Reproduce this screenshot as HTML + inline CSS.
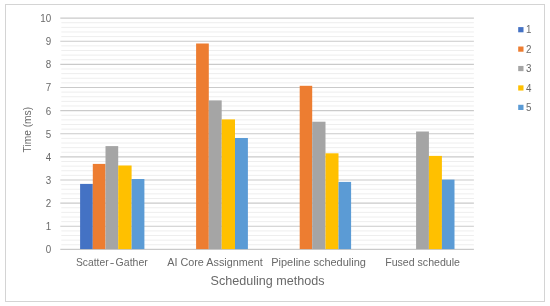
<!DOCTYPE html>
<html><head><meta charset="utf-8"><title>Chart</title>
<style>
html,body{margin:0;padding:0;background:#fff;}
body{width:550px;height:306px;overflow:hidden;}
svg{display:block;}
text{font-family:"Liberation Sans",sans-serif;fill:#696969;}
</style></head><body>
<svg width="550" height="306" viewBox="0 0 550 306">
<rect x="0" y="0" width="550" height="306" fill="#fff"/>
<rect x="5.5" y="4.5" width="539" height="297" fill="#fff" stroke="#d4d4d4" stroke-width="1"/>
<line x1="61.3" x2="473.9" y1="244.77" y2="244.77" stroke="#eeeeee" stroke-width="1"/>
<line x1="61.3" x2="473.9" y1="240.15" y2="240.15" stroke="#eeeeee" stroke-width="1"/>
<line x1="61.3" x2="473.9" y1="235.52" y2="235.52" stroke="#eeeeee" stroke-width="1"/>
<line x1="61.3" x2="473.9" y1="230.90" y2="230.90" stroke="#eeeeee" stroke-width="1"/>
<line x1="61.3" x2="473.9" y1="221.64" y2="221.64" stroke="#eeeeee" stroke-width="1"/>
<line x1="61.3" x2="473.9" y1="217.02" y2="217.02" stroke="#eeeeee" stroke-width="1"/>
<line x1="61.3" x2="473.9" y1="212.39" y2="212.39" stroke="#eeeeee" stroke-width="1"/>
<line x1="61.3" x2="473.9" y1="207.77" y2="207.77" stroke="#eeeeee" stroke-width="1"/>
<line x1="61.3" x2="473.9" y1="198.51" y2="198.51" stroke="#eeeeee" stroke-width="1"/>
<line x1="61.3" x2="473.9" y1="193.89" y2="193.89" stroke="#eeeeee" stroke-width="1"/>
<line x1="61.3" x2="473.9" y1="189.26" y2="189.26" stroke="#eeeeee" stroke-width="1"/>
<line x1="61.3" x2="473.9" y1="184.64" y2="184.64" stroke="#eeeeee" stroke-width="1"/>
<line x1="61.3" x2="473.9" y1="175.38" y2="175.38" stroke="#eeeeee" stroke-width="1"/>
<line x1="61.3" x2="473.9" y1="170.76" y2="170.76" stroke="#eeeeee" stroke-width="1"/>
<line x1="61.3" x2="473.9" y1="166.13" y2="166.13" stroke="#eeeeee" stroke-width="1"/>
<line x1="61.3" x2="473.9" y1="161.51" y2="161.51" stroke="#eeeeee" stroke-width="1"/>
<line x1="61.3" x2="473.9" y1="152.25" y2="152.25" stroke="#eeeeee" stroke-width="1"/>
<line x1="61.3" x2="473.9" y1="147.63" y2="147.63" stroke="#eeeeee" stroke-width="1"/>
<line x1="61.3" x2="473.9" y1="143.00" y2="143.00" stroke="#eeeeee" stroke-width="1"/>
<line x1="61.3" x2="473.9" y1="138.38" y2="138.38" stroke="#eeeeee" stroke-width="1"/>
<line x1="61.3" x2="473.9" y1="129.12" y2="129.12" stroke="#eeeeee" stroke-width="1"/>
<line x1="61.3" x2="473.9" y1="124.50" y2="124.50" stroke="#eeeeee" stroke-width="1"/>
<line x1="61.3" x2="473.9" y1="119.87" y2="119.87" stroke="#eeeeee" stroke-width="1"/>
<line x1="61.3" x2="473.9" y1="115.25" y2="115.25" stroke="#eeeeee" stroke-width="1"/>
<line x1="61.3" x2="473.9" y1="105.99" y2="105.99" stroke="#eeeeee" stroke-width="1"/>
<line x1="61.3" x2="473.9" y1="101.37" y2="101.37" stroke="#eeeeee" stroke-width="1"/>
<line x1="61.3" x2="473.9" y1="96.74" y2="96.74" stroke="#eeeeee" stroke-width="1"/>
<line x1="61.3" x2="473.9" y1="92.12" y2="92.12" stroke="#eeeeee" stroke-width="1"/>
<line x1="61.3" x2="473.9" y1="82.86" y2="82.86" stroke="#eeeeee" stroke-width="1"/>
<line x1="61.3" x2="473.9" y1="78.24" y2="78.24" stroke="#eeeeee" stroke-width="1"/>
<line x1="61.3" x2="473.9" y1="73.61" y2="73.61" stroke="#eeeeee" stroke-width="1"/>
<line x1="61.3" x2="473.9" y1="68.99" y2="68.99" stroke="#eeeeee" stroke-width="1"/>
<line x1="61.3" x2="473.9" y1="59.73" y2="59.73" stroke="#eeeeee" stroke-width="1"/>
<line x1="61.3" x2="473.9" y1="55.11" y2="55.11" stroke="#eeeeee" stroke-width="1"/>
<line x1="61.3" x2="473.9" y1="50.48" y2="50.48" stroke="#eeeeee" stroke-width="1"/>
<line x1="61.3" x2="473.9" y1="45.86" y2="45.86" stroke="#eeeeee" stroke-width="1"/>
<line x1="61.3" x2="473.9" y1="36.60" y2="36.60" stroke="#eeeeee" stroke-width="1"/>
<line x1="61.3" x2="473.9" y1="31.98" y2="31.98" stroke="#eeeeee" stroke-width="1"/>
<line x1="61.3" x2="473.9" y1="27.35" y2="27.35" stroke="#eeeeee" stroke-width="1"/>
<line x1="61.3" x2="473.9" y1="22.73" y2="22.73" stroke="#eeeeee" stroke-width="1"/>
<line x1="60.3" x2="473.9" y1="249.40" y2="249.40" stroke="#cacaca" stroke-width="1.15"/>
<line x1="60.3" x2="473.9" y1="226.27" y2="226.27" stroke="#cacaca" stroke-width="1.15"/>
<line x1="60.3" x2="473.9" y1="203.14" y2="203.14" stroke="#cacaca" stroke-width="1.15"/>
<line x1="60.3" x2="473.9" y1="180.01" y2="180.01" stroke="#cacaca" stroke-width="1.15"/>
<line x1="60.3" x2="473.9" y1="156.88" y2="156.88" stroke="#cacaca" stroke-width="1.15"/>
<line x1="60.3" x2="473.9" y1="133.75" y2="133.75" stroke="#cacaca" stroke-width="1.15"/>
<line x1="60.3" x2="473.9" y1="110.62" y2="110.62" stroke="#cacaca" stroke-width="1.15"/>
<line x1="60.3" x2="473.9" y1="87.49" y2="87.49" stroke="#cacaca" stroke-width="1.15"/>
<line x1="60.3" x2="473.9" y1="64.36" y2="64.36" stroke="#cacaca" stroke-width="1.15"/>
<line x1="60.3" x2="473.9" y1="41.23" y2="41.23" stroke="#cacaca" stroke-width="1.15"/>
<line x1="60.3" x2="473.9" y1="18.10" y2="18.10" stroke="#cacaca" stroke-width="1.15"/>
<rect x="80.10" y="183.90" width="12.70" height="65.20" fill="#4472c4"/>
<rect x="92.80" y="163.90" width="12.70" height="85.20" fill="#ed7d31"/>
<rect x="105.50" y="146.10" width="12.70" height="103.00" fill="#a5a5a5"/>
<rect x="118.20" y="165.50" width="13.40" height="83.60" fill="#ffc000"/>
<rect x="131.60" y="179.00" width="12.80" height="70.10" fill="#5b9bd5"/>
<rect x="196.10" y="43.50" width="12.70" height="205.60" fill="#ed7d31"/>
<rect x="208.80" y="100.40" width="12.90" height="148.70" fill="#a5a5a5"/>
<rect x="221.70" y="119.40" width="13.30" height="129.70" fill="#ffc000"/>
<rect x="235.00" y="138.00" width="12.90" height="111.10" fill="#5b9bd5"/>
<rect x="299.70" y="85.80" width="12.50" height="163.30" fill="#ed7d31"/>
<rect x="312.20" y="121.70" width="13.30" height="127.40" fill="#a5a5a5"/>
<rect x="325.50" y="153.30" width="13.00" height="95.80" fill="#ffc000"/>
<rect x="338.50" y="181.90" width="12.60" height="67.20" fill="#5b9bd5"/>
<rect x="416.10" y="131.50" width="12.80" height="117.60" fill="#a5a5a5"/>
<rect x="428.90" y="155.90" width="13.00" height="93.20" fill="#ffc000"/>
<rect x="441.90" y="179.60" width="12.60" height="69.50" fill="#5b9bd5"/>
<text x="45.65" y="253.3" font-size="11.4" textLength="5.45" lengthAdjust="spacingAndGlyphs">0</text>
<text x="45.65" y="230.2" font-size="11.4" textLength="5.45" lengthAdjust="spacingAndGlyphs">1</text>
<text x="45.65" y="207.1" font-size="11.4" textLength="5.45" lengthAdjust="spacingAndGlyphs">2</text>
<text x="45.65" y="184.0" font-size="11.4" textLength="5.45" lengthAdjust="spacingAndGlyphs">3</text>
<text x="45.65" y="160.8" font-size="11.4" textLength="5.45" lengthAdjust="spacingAndGlyphs">4</text>
<text x="45.65" y="137.7" font-size="11.4" textLength="5.45" lengthAdjust="spacingAndGlyphs">5</text>
<text x="45.65" y="114.6" font-size="11.4" textLength="5.45" lengthAdjust="spacingAndGlyphs">6</text>
<text x="45.65" y="91.4" font-size="11.4" textLength="5.45" lengthAdjust="spacingAndGlyphs">7</text>
<text x="45.65" y="68.3" font-size="11.4" textLength="5.45" lengthAdjust="spacingAndGlyphs">8</text>
<text x="45.65" y="45.2" font-size="11.4" textLength="5.45" lengthAdjust="spacingAndGlyphs">9</text>
<text x="40.20" y="22.1" font-size="11.4" textLength="10.9" lengthAdjust="spacingAndGlyphs">10</text>
<text y="265.7" font-size="11.2"><tspan x="76.0" textLength="32.6" lengthAdjust="spacingAndGlyphs">Scatter</tspan><tspan x="109.8" textLength="4.6" lengthAdjust="spacingAndGlyphs">-</tspan><tspan x="115.6" textLength="32.2" lengthAdjust="spacingAndGlyphs">Gather</tspan></text>
<text x="167.20" y="265.7" font-size="11.2" textLength="95.6" lengthAdjust="spacingAndGlyphs">AI Core Assignment</text>
<text x="271.20" y="265.7" font-size="11.2" textLength="94.8" lengthAdjust="spacingAndGlyphs">Pipeline scheduling</text>
<text x="385.20" y="265.7" font-size="11.2" textLength="74.8" lengthAdjust="spacingAndGlyphs">Fused schedule</text>
<text x="210.5" y="284.6" font-size="12.5" textLength="114" lengthAdjust="spacingAndGlyphs">Scheduling methods</text>
<text transform="translate(30.8,152.5) rotate(-90)" font-size="11.8" textLength="45.6" lengthAdjust="spacingAndGlyphs">Time (ms)</text>
<rect x="518.2" y="27.10" width="5.3" height="5.2" fill="#4472c4"/>
<text x="526.1" y="33.40" font-size="11.4" textLength="5.45" lengthAdjust="spacingAndGlyphs">1</text>
<rect x="518.2" y="46.52" width="5.3" height="5.2" fill="#ed7d31"/>
<text x="526.1" y="52.82" font-size="11.4" textLength="5.45" lengthAdjust="spacingAndGlyphs">2</text>
<rect x="518.2" y="65.94" width="5.3" height="5.2" fill="#a5a5a5"/>
<text x="526.1" y="72.24" font-size="11.4" textLength="5.45" lengthAdjust="spacingAndGlyphs">3</text>
<rect x="518.2" y="85.36" width="5.3" height="5.2" fill="#ffc000"/>
<text x="526.1" y="91.66" font-size="11.4" textLength="5.45" lengthAdjust="spacingAndGlyphs">4</text>
<rect x="518.2" y="104.78" width="5.3" height="5.2" fill="#5b9bd5"/>
<text x="526.1" y="111.08" font-size="11.4" textLength="5.45" lengthAdjust="spacingAndGlyphs">5</text>
</svg>
</body></html>
